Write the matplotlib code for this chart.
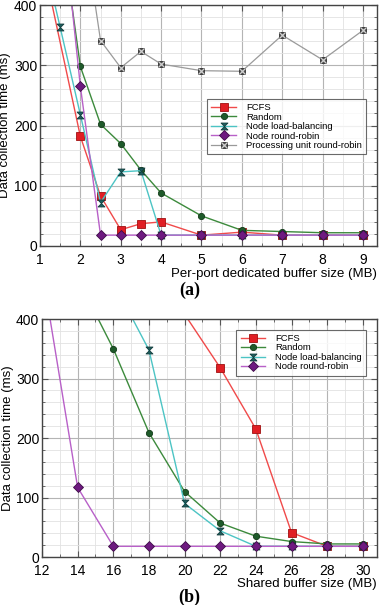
#!/usr/bin/env python3

import matplotlib

matplotlib.use("Agg")
import matplotlib.pyplot as plt
from matplotlib.legend_handler import HandlerTuple
from matplotlib.path import Path
from matplotlib.ticker import MultipleLocator

# (a) per-port dedicated buffer size (MB) vs data collection time (ms)
a_fcfs_x = [1, 2, 2.5, 3, 3.5, 4, 5, 6, 7, 8, 9]
a_fcfs_y = [494, 182, 83, 27, 37, 40, 18, 23, 18, 18, 18]
a_random_x = [1.5, 2, 2.5, 3, 3.5, 4, 5, 6, 7, 8, 9]
a_random_y = [540, 298, 202, 170, 126, 88, 50, 26, 24, 22, 22]
a_nlb_x = [1, 1.5, 2, 2.5, 3, 3.5, 4, 5, 6, 7, 8, 9]
a_nlb_y = [506, 363, 218, 72, 123, 125, 18, 18, 18, 18, 18, 18]
a_nrr_x = [1.5, 2, 2.5, 3, 3.5, 4, 5, 6, 7, 8, 9]
a_nrr_y = [586, 265, 18, 18, 18, 18, 18, 18, 18, 18, 18]
a_purr_x = [2, 2.5, 3, 3.5, 4, 5, 6, 7, 8, 9]
a_purr_y = [566, 341, 296, 323, 302, 291, 290, 350, 309, 358]

# (b) shared buffer size (MB) vs data collection time (ms)
b_fcfs_x = [20, 22, 24, 26, 28, 30]
b_fcfs_y = [408, 318, 215, 41, 18, 18]
b_random_x = [14, 16, 18, 20, 22, 24, 26, 28, 30]
b_random_y = [468, 350, 209, 110, 57, 35, 26, 22, 22]
b_nlb_x = [16, 18, 20, 22, 24, 26, 28, 30]
b_nlb_y = [462, 348, 90, 44, 18, 18, 18, 18]
b_nrr_x = [12, 14, 16, 18, 20, 22, 24, 26, 28, 30]
b_nrr_y = [483, 117, 18, 18, 18, 18, 18, 18, 18, 18]

hourglass = Path(
    [(-1, 1), (1, 1), (-1, -1), (1, -1), (-1, 1)],
    [Path.MOVETO, Path.LINETO, Path.LINETO, Path.LINETO, Path.CLOSEPOLY],
)

styles = {
    "FCFS": dict(color="#f04a4a", marker="s", mfc="#e01e24", mec="#a01010", ms=5.5),
    "Random": dict(color="#3c8a3c", marker="o", mfc="#1e5a2a", mec="#123a18", ms=4.5),
    "Node load-balancing": dict(color="#4cc4c4", marker=hourglass, mfc="#1e6060",
                                mec="#143c3c", ms=5),
    "Node round-robin": dict(color="#b860c8", marker="D", mfc="#6e1a80", mec="#3e0c48", ms=5),
}

plt.rcParams["font.family"] = ["Liberation Sans", "DejaVu Sans"]

fig = plt.figure(figsize=(3.79, 6.05), dpi=100)
ax_a = fig.add_axes([0.1055, 0.5934, 0.8895, 0.3983])
ax_b = fig.add_axes([0.1108, 0.0793, 0.8842, 0.3934])


def style_axes(ax, xmin, xmax, xmajor, xminor):
    ax.set_xlim(xmin, xmax)
    ax.set_ylim(0, 400)
    ax.xaxis.set_major_locator(MultipleLocator(xmajor))
    ax.xaxis.set_minor_locator(MultipleLocator(xminor))
    ax.yaxis.set_major_locator(MultipleLocator(100))
    ax.yaxis.set_minor_locator(MultipleLocator(20))
    ax.grid(which="major", color="#b4b4b4", lw=0.8)
    ax.grid(which="minor", color="#e2e2e2", lw=0.6)
    ax.set_axisbelow(True)
    ax.tick_params(which="both", direction="in", top=True, right=True, labelsize=10,
                   color="#555555")
    ax.tick_params(axis="x", pad=5)
    ax.tick_params(axis="y", pad=2)
    ax.tick_params(which="major", length=4)
    ax.tick_params(which="minor", length=2)
    for sp in ax.spines.values():
        sp.set_color("#444444")
        sp.set_linewidth(1.0)
    ax.set_ylabel("Data collection time (ms)", fontsize=9.5, labelpad=2)
    ax.yaxis.set_label_coords(-0.085, 0.5)


def draw(ax, label, xs, ys):
    st = styles[label]
    ax.plot(xs, ys, color=st["color"], lw=1.0, marker=st["marker"], ms=st["ms"],
            mfc=st["mfc"], mec=st["mec"], mew=0.6, label=label, clip_on=True)


legend_kw = dict(fontsize=6.8, frameon=True, fancybox=False, edgecolor="#444444",
                 handlelength=2.6, handletextpad=1.1, borderpad=0.45, labelspacing=0.05)

# panel (a)
style_axes(ax_a, 1, 9.35, 1, 0.5)
draw(ax_a, "FCFS", a_fcfs_x, a_fcfs_y)
draw(ax_a, "Random", a_random_x, a_random_y)
draw(ax_a, "Node load-balancing", a_nlb_x, a_nlb_y)
draw(ax_a, "Node round-robin", a_nrr_x, a_nrr_y)
ax_a.plot(a_purr_x, a_purr_y, color="#9a9a9a", lw=0.9, marker="s", ms=5,
          mfc="#505050", mec="#303030", mew=0.6)
ax_a.plot(a_purr_x, a_purr_y, ls="none", marker="x", ms=4, mec="#d0d0d0", mew=0.9)
handles, labels = ax_a.get_legend_handles_labels()
purr_line = plt.Line2D([], [], color="#9a9a9a", lw=0.9, marker="s", ms=5,
                       mfc="#505050", mec="#303030", mew=0.6)
purr_x = plt.Line2D([], [], ls="none", marker="x", ms=4, mec="#d0d0d0", mew=0.9)
handles.append((purr_line, purr_x))
labels.append("Processing unit round-robin")
leg = ax_a.legend(handles, labels, loc="upper right", bbox_to_anchor=(0.982, 0.63),
                  handler_map={tuple: HandlerTuple(ndivide=1)}, **legend_kw)
leg.get_frame().set_linewidth(0.8)
ax_a.set_xlabel("Per-port dedicated buffer size (MB)", fontsize=9.5)
ax_a.xaxis.set_label_coords(1.0, -0.09, transform=ax_a.transAxes)
ax_a.xaxis.label.set_ha("right")
fig.text(0.5, 0.52, "(a)", ha="center", va="center", fontsize=13, fontweight="bold",
         family="Liberation Serif")

# panel (b)
style_axes(ax_b, 12, 30.8, 2, 1)
draw(ax_b, "FCFS", b_fcfs_x, b_fcfs_y)
draw(ax_b, "Random", b_random_x, b_random_y)
draw(ax_b, "Node load-balancing", b_nlb_x, b_nlb_y)
draw(ax_b, "Node round-robin", b_nrr_x, b_nrr_y)
leg_b = ax_b.legend(loc="upper right", bbox_to_anchor=(0.982, 0.975), **legend_kw)
leg_b.get_frame().set_linewidth(0.8)
ax_b.set_xlabel("Shared buffer size (MB)", fontsize=9.5)
ax_b.xaxis.set_label_coords(1.0, -0.09, transform=ax_b.transAxes)
ax_b.xaxis.label.set_ha("right")
fig.text(0.5, 0.012, "(b)", ha="center", va="center", fontsize=13, fontweight="bold",
         family="Liberation Serif")

fig.savefig("out.png", dpi=100)
